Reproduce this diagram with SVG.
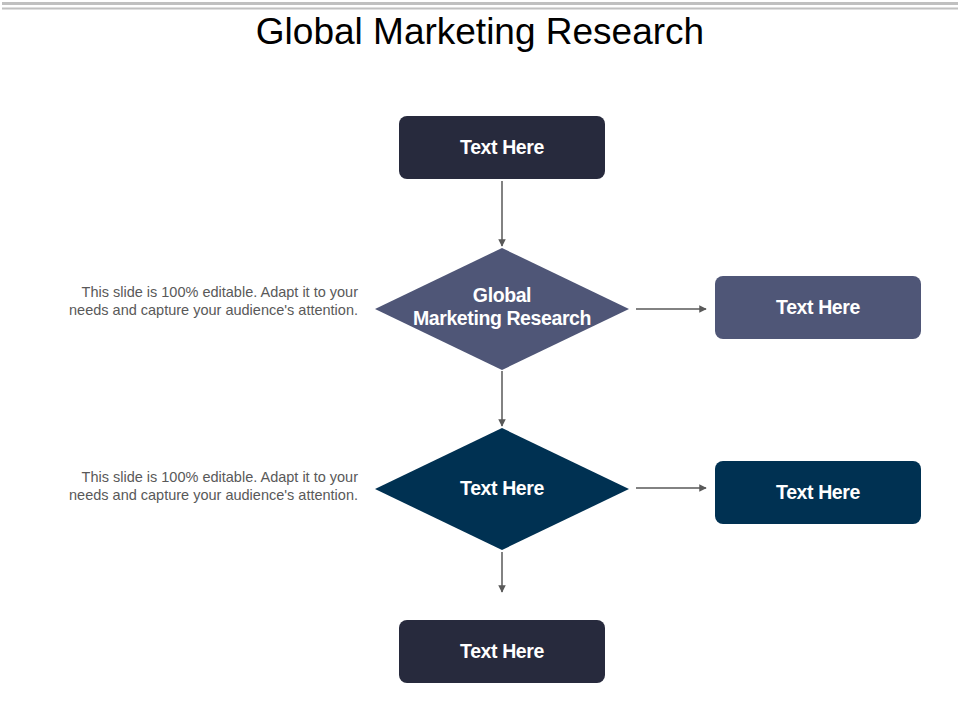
<svg xmlns="http://www.w3.org/2000/svg" width="960" height="720" viewBox="0 0 960 720">
<style>
.t{font-family:"Liberation Sans",Arial,sans-serif;font-weight:bold;font-size:19.5px;fill:#fff;text-anchor:middle;letter-spacing:-0.4px}
.d{font-family:"Liberation Sans",Arial,sans-serif;font-size:14.5px;fill:#595959;text-anchor:end}
.c{stroke:#595959;stroke-width:1.5;fill:none;marker-end:url(#a)}
</style>
<defs><marker id="a" viewBox="0 0 10 10" refX="9" refY="5" markerWidth="5" markerHeight="5" orient="auto"><path d="M0,0L10,5L0,10z" fill="#595959"/></marker></defs>
<rect width="960" height="720" fill="#fff"/>
<rect x="2" y="2" width="956" height="3" fill="#c0c0c0"/>
<rect x="2" y="7.5" width="956" height="2" fill="#c0c0c0"/>
<text x="480" y="44" font-family="Liberation Sans,Arial,sans-serif" font-size="37" text-anchor="middle" fill="#000">Global Marketing Research</text>
<g id="connectors">
<path class="c" d="M502,181V246"/>
<path class="c" d="M502,371V426"/>
<path class="c" d="M502,552V592"/>
<path class="c" d="M636,309H706"/>
<path class="c" d="M636,488H706"/>
</g>
<g id="n1"><rect x="399" y="116" width="206" height="63" rx="8" fill="#272a3d"/><text class="t" x="502" y="154">Text Here</text></g>
<g id="n2"><polygon points="502,248 629,309 502,370 375,309" fill="#4f5677"/><text class="t" x="502" y="302">Global</text><text class="t" x="502" y="325">Marketing Research</text></g>
<g id="n3"><rect x="715" y="276" width="206" height="63" rx="8" fill="#4f5677"/><text class="t" x="818" y="314">Text Here</text></g>
<g id="n4"><polygon points="502,428 629,489 502,550 375,489" fill="#003152"/><text class="t" x="502" y="495">Text Here</text></g>
<g id="n5"><rect x="715" y="461" width="206" height="63" rx="8" fill="#003152"/><text class="t" x="818" y="499">Text Here</text></g>
<g id="n6"><rect x="399" y="620" width="206" height="63" rx="8" fill="#272a3d"/><text class="t" x="502" y="658">Text Here</text></g>
<g id="desc1"><text class="d" x="358" y="297">This slide is 100% editable. Adapt it to your</text><text class="d" x="358" y="315">needs and capture your audience's attention.</text></g>
<g id="desc2"><text class="d" x="358" y="482">This slide is 100% editable. Adapt it to your</text><text class="d" x="358" y="500">needs and capture your audience's attention.</text></g>
</svg>
